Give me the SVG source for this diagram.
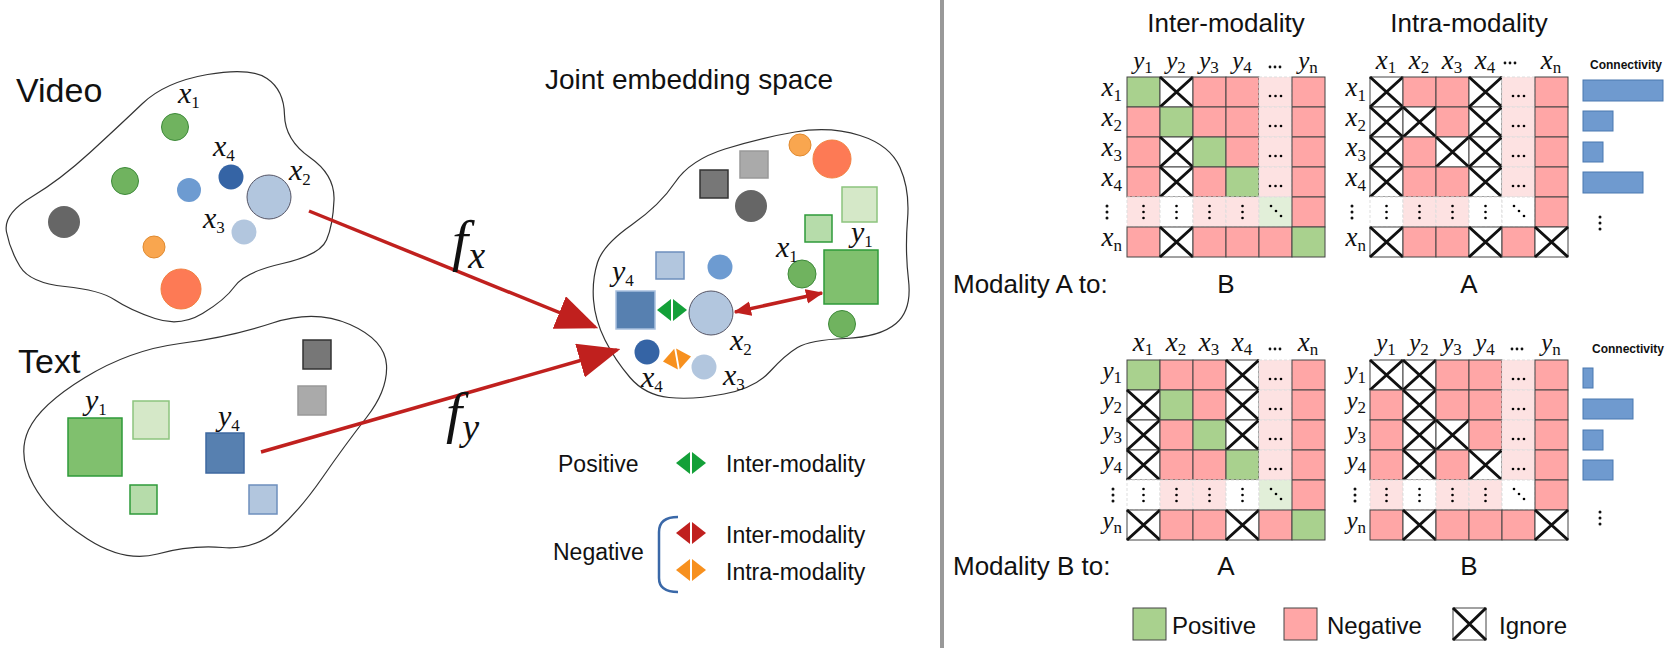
<svg xmlns="http://www.w3.org/2000/svg" xmlns:xlink="http://www.w3.org/1999/xlink" width="1668" height="648" viewBox="0 0 1668 648">
<style>
.sans{font-family:"Liberation Sans",Arial,sans-serif;fill:#111}
.m{font-family:"Liberation Serif","DejaVu Serif",serif;font-style:italic;font-size:27px;fill:#111}
.mb{font-family:"Liberation Serif","DejaVu Serif",serif;font-style:italic;font-size:30px;fill:#111}
.mc{font-family:"Liberation Serif","DejaVu Serif",serif;font-style:italic;font-size:25px;fill:#111}
.s{font-size:17px;font-style:normal}
.blob{fill:none;stroke:#333;stroke-width:1.2}
.conn{stroke:#c0201e;stroke-width:3.5;fill:none}
.bar{fill:#6f9acf;stroke:#4a78b0;stroke-width:1}
</style>
<defs>
<marker id="ah" viewBox="0 0 12 10" refX="11" refY="5" markerWidth="12" markerHeight="10" markerUnits="strokeWidth" orient="auto"><path d="M0,0 L12,5 L0,10 z" fill="#c0201e"/></marker>
<marker id="ah2" viewBox="0 0 12 10" refX="11" refY="5" markerWidth="5" markerHeight="5" markerUnits="strokeWidth" orient="auto-start-reverse"><path d="M0,0 L12,5 L0,10 z" fill="#c0201e"/></marker>
<g id="cP"><rect width="33" height="30" fill="#ffa6a6" stroke="#444"/></g>
<g id="cG"><rect width="33" height="30" fill="#a9d18e" stroke="#444"/></g>
<g id="cX"><rect width="33" height="30" fill="#fff" stroke="#444"/><path d="M0,0 L33,30 M33,0 L0,30" stroke="#111" stroke-width="3"/></g>
<g id="cH"><rect width="33" height="30" fill="#fde2e2" stroke="#ddd" stroke-dasharray="3 2"/><circle cx="11" cy="19" r="1.3"/><circle cx="16.5" cy="19" r="1.3"/><circle cx="22" cy="19" r="1.3"/></g>
<g id="cV"><rect width="33" height="30" fill="#fde2e2" stroke="#ddd" stroke-dasharray="3 2"/><circle cx="16.5" cy="9" r="1.3"/><circle cx="16.5" cy="15" r="1.3"/><circle cx="16.5" cy="21" r="1.3"/></g>
<g id="cW"><rect width="33" height="30" fill="#fff" stroke="#ddd" stroke-dasharray="3 2"/><circle cx="16.5" cy="9" r="1.3"/><circle cx="16.5" cy="15" r="1.3"/><circle cx="16.5" cy="21" r="1.3"/></g>
<g id="cD"><rect width="33" height="30" fill="#e2efd9" stroke="#ddd" stroke-dasharray="3 2"/><circle cx="12" cy="9" r="1.3"/><circle cx="17" cy="14" r="1.3"/><circle cx="22" cy="19" r="1.3"/></g>
<g id="cE"><rect width="33" height="30" fill="#fff" stroke="#ddd" stroke-dasharray="3 2"/><circle cx="12" cy="9" r="1.3"/><circle cx="17" cy="14" r="1.3"/><circle cx="22" cy="19" r="1.3"/></g>
<g id="vd"><circle cx="0" cy="0" r="1.5"/><circle cx="0" cy="6" r="1.5"/><circle cx="0" cy="12" r="1.5"/></g>
<g id="hd"><circle cx="0" cy="0" r="1.4"/><circle cx="5" cy="0" r="1.4"/><circle cx="10" cy="0" r="1.4"/></g>
<g id="da"><polygon points="-15,0 -1,-11 -1,11"/><polygon points="15,0 1,-11 1,11"/></g>
</defs>
<rect width="1668" height="648" fill="#fff"/>
<rect x="940" y="0" width="4" height="648" fill="#999"/>

<g id="video">
<path class="blob" d="M31.5,197 Q60,180 90,152.5 Q120,125 142.5,103.5 Q165,82 207.5,74.5 Q250,67 267,78.5 Q284,90 284.5,115 Q285,140 310,157.5 Q335,175 334,200 Q333,225 326.5,240 Q320,255 282.5,263.5 Q245,272 235,286 Q225,300 202.5,313.5 Q180,327 155,318.5 Q130,310 115,300 Q100,290 65,286.5 Q30,283 20,266.5 Q10,250 6.5,232 Q3,214 31.5,197Z"/>
<text class="sans" x="16" y="102" font-size="34">Video</text>
<circle cx="175" cy="127" r="13.5" fill="#70b35f" stroke="#3e8a3a"/>
<circle cx="125" cy="181" r="13.5" fill="#70b35f" stroke="#3e8a3a"/>
<circle cx="64" cy="222" r="16" fill="#666"/>
<circle cx="189" cy="190" r="12" fill="#6d9bd1"/>
<circle cx="231" cy="177" r="12.5" fill="#3564a5"/>
<circle cx="269" cy="197" r="22" fill="#b2c6de" stroke="#556"/>
<circle cx="244" cy="232" r="12.5" fill="#b2c6de"/>
<circle cx="154" cy="247" r="11" fill="#f9a64f" stroke="#e08a30"/>
<circle cx="181" cy="289" r="20" fill="#fd7a55" stroke="#f28040"/>
<text class="mb" x="178" y="103">x<tspan class="s" dy="5">1</tspan></text>
<text class="mb" x="213" y="156">x<tspan class="s" dy="5">4</tspan></text>
<text class="mb" x="289" y="180">x<tspan class="s" dy="5">2</tspan></text>
<text class="mb" x="203" y="228">x<tspan class="s" dy="5">3</tspan></text>
</g>

<g id="text">
<path class="blob" d="M28.5,430 Q40,405 85,377.5 Q130,350 180,343.5 Q230,337 272.5,323 Q315,309 350,324.5 Q385,340 386.5,365 Q388,390 366.5,417.5 Q345,445 322.5,477.5 Q300,510 277.5,530 Q255,550 222.5,547.5 Q190,545 157.5,554 Q125,563 87.5,539 Q50,515 33.5,485 Q17,455 28.5,430Z"/>
<text class="sans" x="18" y="373" font-size="34">Text</text>
<rect x="68" y="418" width="54" height="58" fill="#80c06e" stroke="#2e9a3a" stroke-width="1.5"/>
<rect x="133" y="401" width="36" height="38" fill="#d5e8c8" stroke="#8cc47e" stroke-width="1.5"/>
<rect x="130" y="485" width="27" height="29" fill="#b6dcaa" stroke="#2e9a3a" stroke-width="1.5"/>
<rect x="206" y="433" width="38" height="40" fill="#5780b0" stroke="#3e68a0" stroke-width="1.5"/>
<rect x="249" y="485" width="28" height="29" fill="#b2c6de" stroke="#6d8fbd" stroke-width="1.5"/>
<rect x="303" y="340" width="28" height="29" fill="#777" stroke="#333" stroke-width="1.5"/>
<rect x="298" y="386" width="28" height="29" fill="#aaa" stroke="#999" stroke-width="1.5"/>
<text class="mb" x="85" y="410">y<tspan class="s" dy="5">1</tspan></text>
<text class="mb" x="218" y="426">y<tspan class="s" dy="5">4</tspan></text>
</g>

<g id="joint">
<path class="blob" d="M631.5,225 Q660,205 675,182.5 Q690,160 725,149 Q760,138 795,132 Q830,126 860,135.5 Q890,145 900,167.5 Q910,190 907.5,220 Q905,250 908.5,280 Q912,310 896,323.5 Q880,337 845,338.5 Q810,340 797.5,347.5 Q785,355 770,371.5 Q755,388 724,394 Q693,400 669,397.5 Q645,395 630,377.5 Q615,360 605,340 Q595,320 593.5,300 Q592,280 597.5,262.5 Q603,245 631.5,225Z"/>
<text class="sans" x="545" y="89" font-size="28">Joint embedding space</text>
<circle cx="800" cy="145" r="11" fill="#f9a64f" stroke="#e08a30"/>
<circle cx="832" cy="159" r="19" fill="#fd7a55" stroke="#f28040"/>
<rect x="740" y="151" width="28" height="27" fill="#aaa" stroke="#999" stroke-width="1.5"/>
<rect x="700" y="170" width="28" height="28" fill="#777" stroke="#333" stroke-width="1.5"/>
<circle cx="751" cy="206" r="16" fill="#666"/>
<rect x="842" y="187" width="35" height="35" fill="#d5e8c8" stroke="#8cc47e" stroke-width="1.5"/>
<rect x="805" y="215" width="27" height="27" fill="#b6dcaa" stroke="#2e9a3a" stroke-width="1.5"/>
<rect x="824" y="250" width="54" height="54" fill="#80c06e" stroke="#2e9a3a" stroke-width="1.5"/>
<circle cx="802" cy="274" r="14" fill="#70b35f" stroke="#3e8a3a"/>
<circle cx="842" cy="324" r="13.5" fill="#70b35f" stroke="#3e8a3a"/>
<rect x="656" y="252" width="28" height="27" fill="#b2c6de" stroke="#6d8fbd" stroke-width="1.5"/>
<circle cx="720" cy="267" r="12.5" fill="#6d9bd1"/>
<rect x="616" y="291" width="39" height="38" fill="#5780b0" stroke="#a9c0de" stroke-width="1.5"/>
<circle cx="711" cy="313" r="22" fill="#b2c6de" stroke="#556"/>
<circle cx="647" cy="352" r="12.5" fill="#3564a5"/>
<circle cx="704" cy="367" r="12.5" fill="#b2c6de"/>
<use href="#da" x="672" y="310" fill="#13a038"/>
<use href="#da" transform="translate(677,359) rotate(-10) scale(0.95)" fill="#f7901e"/>
<text class="mb" x="851" y="242">y<tspan class="s" dy="5">1</tspan></text>
<text class="mb" x="776" y="257">x<tspan class="s" dy="5">1</tspan></text>
<text class="mb" x="612" y="281">y<tspan class="s" dy="5">4</tspan></text>
<text class="mb" x="730" y="350">x<tspan class="s" dy="5">2</tspan></text>
<text class="mb" x="641" y="387">x<tspan class="s" dy="5">4</tspan></text>
<text class="mb" x="723" y="385">x<tspan class="s" dy="5">3</tspan></text>
</g>

<g id="connectors">
<line class="conn" x1="309" y1="211" x2="595" y2="327" marker-end="url(#ah)"/>
<line class="conn" x1="261" y1="452" x2="617" y2="350" marker-end="url(#ah)"/>
<line class="conn" x1="735" y1="312" x2="822" y2="293" stroke-width="3" marker-start="url(#ah2)" marker-end="url(#ah2)"/>
<text class="m" x="452" y="260" style="font-size:58px">f<tspan style="font-size:38px" dy="8">x</tspan></text>
<text class="m" x="446" y="432" style="font-size:58px">f<tspan style="font-size:38px" dy="8">y</tspan></text>
</g>

<g id="legend-left">
<text class="sans" x="558" y="472" font-size="23">Positive</text>
<use href="#da" x="691" y="463" fill="#13a038"/>
<text class="sans" x="726" y="472" font-size="23">Inter-modality</text>
<text class="sans" x="553" y="560" font-size="23">Negative</text>
<path d="M678,517 Q659,517 659,532 L659,578 Q659,592 678,592" fill="none" stroke="#3a68a8" stroke-width="2.5"/>
<use href="#da" x="691" y="533" fill="#c0201e"/>
<text class="sans" x="726" y="543" font-size="23">Inter-modality</text>
<use href="#da" x="691" y="570" fill="#f7901e"/>
<text class="sans" x="726" y="580" font-size="23">Intra-modality</text>
</g>

<g id="titles">
<text class="sans" x="1226" y="32" font-size="26" text-anchor="middle">Inter-modality</text>
<text class="sans" x="1469" y="32" font-size="26" text-anchor="middle">Intra-modality</text>
<text class="sans" x="953" y="293" font-size="26">Modality A to:</text>
<text class="sans" x="1226" y="293" font-size="26" text-anchor="middle">B</text>
<text class="sans" x="1469" y="293" font-size="26" text-anchor="middle">A</text>
<text class="sans" x="953" y="575" font-size="26">Modality B to:</text>
<text class="sans" x="1226" y="575" font-size="26" text-anchor="middle">A</text>
<text class="sans" x="1469" y="575" font-size="26" text-anchor="middle">B</text>
</g>

<g id="matrix-AB">
<use href="#cG" x="1127" y="77"/><use href="#cX" x="1160" y="77"/><use href="#cP" x="1193" y="77"/><use href="#cP" x="1226" y="77"/><use href="#cH" x="1259" y="77"/><use href="#cP" x="1292" y="77"/>
<use href="#cP" x="1127" y="107"/><use href="#cG" x="1160" y="107"/><use href="#cP" x="1193" y="107"/><use href="#cP" x="1226" y="107"/><use href="#cH" x="1259" y="107"/><use href="#cP" x="1292" y="107"/>
<use href="#cP" x="1127" y="137"/><use href="#cX" x="1160" y="137"/><use href="#cG" x="1193" y="137"/><use href="#cP" x="1226" y="137"/><use href="#cH" x="1259" y="137"/><use href="#cP" x="1292" y="137"/>
<use href="#cP" x="1127" y="167"/><use href="#cX" x="1160" y="167"/><use href="#cP" x="1193" y="167"/><use href="#cG" x="1226" y="167"/><use href="#cH" x="1259" y="167"/><use href="#cP" x="1292" y="167"/>
<use href="#cV" x="1127" y="197"/><use href="#cW" x="1160" y="197"/><use href="#cV" x="1193" y="197"/><use href="#cV" x="1226" y="197"/><use href="#cD" x="1259" y="197"/><use href="#cP" x="1292" y="197"/>
<use href="#cP" x="1127" y="227"/><use href="#cX" x="1160" y="227"/><use href="#cP" x="1193" y="227"/><use href="#cP" x="1226" y="227"/><use href="#cP" x="1259" y="227"/><use href="#cG" x="1292" y="227"/>
<text class="mc" x="1143" y="69" text-anchor="middle">y<tspan class="s" dy="4">1</tspan></text>
<text class="mc" x="1176" y="69" text-anchor="middle">y<tspan class="s" dy="4">2</tspan></text>
<text class="mc" x="1209" y="69" text-anchor="middle">y<tspan class="s" dy="4">3</tspan></text>
<text class="mc" x="1242" y="69" text-anchor="middle">y<tspan class="s" dy="4">4</tspan></text>
<use href="#hd" x="1270" y="67" fill="#111"/>
<text class="mc" x="1308" y="69" text-anchor="middle">y<tspan class="s" dy="4">n</tspan></text>
<text class="m" x="1122" y="96" text-anchor="end">x<tspan class="s" dy="5">1</tspan></text>
<text class="m" x="1122" y="126" text-anchor="end">x<tspan class="s" dy="5">2</tspan></text>
<text class="m" x="1122" y="156" text-anchor="end">x<tspan class="s" dy="5">3</tspan></text>
<text class="m" x="1122" y="186" text-anchor="end">x<tspan class="s" dy="5">4</tspan></text>
<use href="#vd" x="1107" y="206" fill="#111"/>
<text class="m" x="1122" y="246" text-anchor="end">x<tspan class="s" dy="5">n</tspan></text>
</g>

<g id="matrix-AA">
<use href="#cX" x="1370" y="77"/><use href="#cP" x="1403" y="77"/><use href="#cP" x="1436" y="77"/><use href="#cX" x="1469" y="77"/><use href="#cH" x="1502" y="77"/><use href="#cP" x="1535" y="77"/>
<use href="#cX" x="1370" y="107"/><use href="#cX" x="1403" y="107"/><use href="#cP" x="1436" y="107"/><use href="#cX" x="1469" y="107"/><use href="#cH" x="1502" y="107"/><use href="#cP" x="1535" y="107"/>
<use href="#cX" x="1370" y="137"/><use href="#cP" x="1403" y="137"/><use href="#cX" x="1436" y="137"/><use href="#cX" x="1469" y="137"/><use href="#cH" x="1502" y="137"/><use href="#cP" x="1535" y="137"/>
<use href="#cX" x="1370" y="167"/><use href="#cP" x="1403" y="167"/><use href="#cP" x="1436" y="167"/><use href="#cX" x="1469" y="167"/><use href="#cH" x="1502" y="167"/><use href="#cP" x="1535" y="167"/>
<use href="#cW" x="1370" y="197"/><use href="#cV" x="1403" y="197"/><use href="#cV" x="1436" y="197"/><use href="#cW" x="1469" y="197"/><use href="#cE" x="1502" y="197"/><use href="#cP" x="1535" y="197"/>
<use href="#cX" x="1370" y="227"/><use href="#cP" x="1403" y="227"/><use href="#cP" x="1436" y="227"/><use href="#cX" x="1469" y="227"/><use href="#cP" x="1502" y="227"/><use href="#cX" x="1535" y="227"/>
<text class="m" x="1386" y="69" text-anchor="middle">x<tspan class="s" dy="4">1</tspan></text>
<text class="m" x="1419" y="69" text-anchor="middle">x<tspan class="s" dy="4">2</tspan></text>
<text class="m" x="1452" y="69" text-anchor="middle">x<tspan class="s" dy="4">3</tspan></text>
<text class="m" x="1485" y="69" text-anchor="middle">x<tspan class="s" dy="4">4</tspan></text>
<use href="#hd" x="1505" y="63" fill="#111"/>
<text class="m" x="1551" y="69" text-anchor="middle">x<tspan class="s" dy="4">n</tspan></text>
<text class="m" x="1366" y="96" text-anchor="end">x<tspan class="s" dy="5">1</tspan></text>
<text class="m" x="1366" y="126" text-anchor="end">x<tspan class="s" dy="5">2</tspan></text>
<text class="m" x="1366" y="156" text-anchor="end">x<tspan class="s" dy="5">3</tspan></text>
<text class="m" x="1366" y="186" text-anchor="end">x<tspan class="s" dy="5">4</tspan></text>
<use href="#vd" x="1352" y="206" fill="#111"/>
<text class="m" x="1366" y="246" text-anchor="end">x<tspan class="s" dy="5">n</tspan></text>
<text class="sans" x="1590" y="69" font-size="12" font-weight="bold">Connectivity</text>
<rect class="bar" x="1583" y="80" width="80" height="21"/>
<rect class="bar" x="1583" y="111" width="30" height="20"/>
<rect class="bar" x="1583" y="142" width="20" height="20"/>
<rect class="bar" x="1583" y="172" width="60" height="21"/>
<use href="#vd" x="1600" y="217" fill="#111"/>
</g>

<g id="matrix-BA">
<use href="#cG" x="1127" y="360"/><use href="#cP" x="1160" y="360"/><use href="#cP" x="1193" y="360"/><use href="#cX" x="1226" y="360"/><use href="#cH" x="1259" y="360"/><use href="#cP" x="1292" y="360"/>
<use href="#cX" x="1127" y="390"/><use href="#cG" x="1160" y="390"/><use href="#cP" x="1193" y="390"/><use href="#cX" x="1226" y="390"/><use href="#cH" x="1259" y="390"/><use href="#cP" x="1292" y="390"/>
<use href="#cX" x="1127" y="420"/><use href="#cP" x="1160" y="420"/><use href="#cG" x="1193" y="420"/><use href="#cX" x="1226" y="420"/><use href="#cH" x="1259" y="420"/><use href="#cP" x="1292" y="420"/>
<use href="#cX" x="1127" y="450"/><use href="#cP" x="1160" y="450"/><use href="#cP" x="1193" y="450"/><use href="#cG" x="1226" y="450"/><use href="#cH" x="1259" y="450"/><use href="#cP" x="1292" y="450"/>
<use href="#cW" x="1127" y="480"/><use href="#cV" x="1160" y="480"/><use href="#cV" x="1193" y="480"/><use href="#cW" x="1226" y="480"/><use href="#cD" x="1259" y="480"/><use href="#cP" x="1292" y="480"/>
<use href="#cX" x="1127" y="510"/><use href="#cP" x="1160" y="510"/><use href="#cP" x="1193" y="510"/><use href="#cX" x="1226" y="510"/><use href="#cP" x="1259" y="510"/><use href="#cG" x="1292" y="510"/>
<text class="m" x="1143" y="351" text-anchor="middle">x<tspan class="s" dy="4">1</tspan></text>
<text class="m" x="1176" y="351" text-anchor="middle">x<tspan class="s" dy="4">2</tspan></text>
<text class="m" x="1209" y="351" text-anchor="middle">x<tspan class="s" dy="4">3</tspan></text>
<text class="m" x="1242" y="351" text-anchor="middle">x<tspan class="s" dy="4">4</tspan></text>
<use href="#hd" x="1270" y="349" fill="#111"/>
<text class="m" x="1308" y="351" text-anchor="middle">x<tspan class="s" dy="4">n</tspan></text>
<text class="mc" x="1122" y="379" text-anchor="end">y<tspan class="s" dy="4">1</tspan></text>
<text class="mc" x="1122" y="409" text-anchor="end">y<tspan class="s" dy="4">2</tspan></text>
<text class="mc" x="1122" y="439" text-anchor="end">y<tspan class="s" dy="4">3</tspan></text>
<text class="mc" x="1122" y="469" text-anchor="end">y<tspan class="s" dy="4">4</tspan></text>
<use href="#vd" x="1113" y="489" fill="#111"/>
<text class="mc" x="1122" y="529" text-anchor="end">y<tspan class="s" dy="4">n</tspan></text>
</g>

<g id="matrix-BB">
<use href="#cX" x="1370" y="360"/><use href="#cX" x="1403" y="360"/><use href="#cP" x="1436" y="360"/><use href="#cP" x="1469" y="360"/><use href="#cH" x="1502" y="360"/><use href="#cP" x="1535" y="360"/>
<use href="#cP" x="1370" y="390"/><use href="#cX" x="1403" y="390"/><use href="#cP" x="1436" y="390"/><use href="#cP" x="1469" y="390"/><use href="#cH" x="1502" y="390"/><use href="#cP" x="1535" y="390"/>
<use href="#cP" x="1370" y="420"/><use href="#cX" x="1403" y="420"/><use href="#cX" x="1436" y="420"/><use href="#cP" x="1469" y="420"/><use href="#cH" x="1502" y="420"/><use href="#cP" x="1535" y="420"/>
<use href="#cP" x="1370" y="450"/><use href="#cX" x="1403" y="450"/><use href="#cP" x="1436" y="450"/><use href="#cX" x="1469" y="450"/><use href="#cH" x="1502" y="450"/><use href="#cP" x="1535" y="450"/>
<use href="#cV" x="1370" y="480"/><use href="#cW" x="1403" y="480"/><use href="#cV" x="1436" y="480"/><use href="#cV" x="1469" y="480"/><use href="#cE" x="1502" y="480"/><use href="#cP" x="1535" y="480"/>
<use href="#cP" x="1370" y="510"/><use href="#cX" x="1403" y="510"/><use href="#cP" x="1436" y="510"/><use href="#cP" x="1469" y="510"/><use href="#cP" x="1502" y="510"/><use href="#cX" x="1535" y="510"/>
<text class="mc" x="1386" y="351" text-anchor="middle">y<tspan class="s" dy="4">1</tspan></text>
<text class="mc" x="1419" y="351" text-anchor="middle">y<tspan class="s" dy="4">2</tspan></text>
<text class="mc" x="1452" y="351" text-anchor="middle">y<tspan class="s" dy="4">3</tspan></text>
<text class="mc" x="1485" y="351" text-anchor="middle">y<tspan class="s" dy="4">4</tspan></text>
<use href="#hd" x="1512" y="349" fill="#111"/>
<text class="mc" x="1551" y="351" text-anchor="middle">y<tspan class="s" dy="4">n</tspan></text>
<text class="mc" x="1366" y="379" text-anchor="end">y<tspan class="s" dy="4">1</tspan></text>
<text class="mc" x="1366" y="409" text-anchor="end">y<tspan class="s" dy="4">2</tspan></text>
<text class="mc" x="1366" y="439" text-anchor="end">y<tspan class="s" dy="4">3</tspan></text>
<text class="mc" x="1366" y="469" text-anchor="end">y<tspan class="s" dy="4">4</tspan></text>
<use href="#vd" x="1355" y="489" fill="#111"/>
<text class="mc" x="1366" y="529" text-anchor="end">y<tspan class="s" dy="4">n</tspan></text>
<text class="sans" x="1592" y="353" font-size="12" font-weight="bold">Connectivity</text>
<rect class="bar" x="1583" y="368" width="10" height="20"/>
<rect class="bar" x="1583" y="399" width="50" height="20"/>
<rect class="bar" x="1583" y="430" width="20" height="20"/>
<rect class="bar" x="1583" y="460" width="30" height="20"/>
<use href="#vd" x="1600" y="512" fill="#111"/>
</g>

<g id="legend-right">
<rect x="1133" y="608" width="33" height="32" fill="#a9d18e" stroke="#444"/>
<text class="sans" x="1172" y="634" font-size="24">Positive</text>
<rect x="1284" y="608" width="33" height="32" fill="#ffa6a6" stroke="#444"/>
<text class="sans" x="1327" y="634" font-size="24">Negative</text>
<g><rect x="1453" y="608" width="33" height="32" fill="#fff" stroke="#444"/><path d="M1453,608 L1486,640 M1486,608 L1453,640" stroke="#111" stroke-width="3"/></g>
<text class="sans" x="1499" y="634" font-size="24">Ignore</text>
</g>
</svg>
